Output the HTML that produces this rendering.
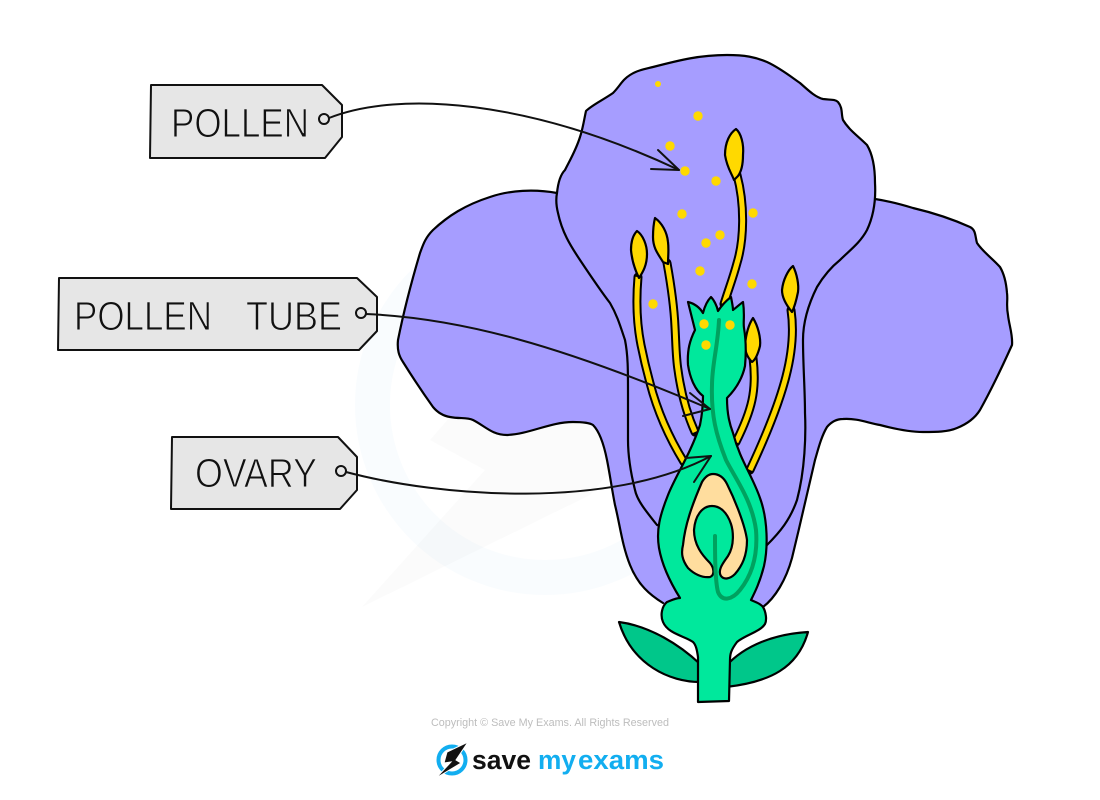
<!DOCTYPE html>
<html><head><meta charset="utf-8"><style>html,body{margin:0;padding:0;background:#fff}svg{display:block}text{font-family:"Liberation Sans",sans-serif}</style></head>
<body>
<svg width="1100" height="800" viewBox="0 0 1100 800" xmlns="http://www.w3.org/2000/svg">
<!-- watermark on white -->
<g stroke="none">
<path fill="#6aaedc" opacity=".04" fill-rule="evenodd" d="M545 215A190 190 0 1 0 545 595A190 190 0 1 0 545 215ZM545 250A155 155 0 1 1 545 560A155 155 0 1 1 545 250Z"/>
<path fill="#777" opacity=".03" d="M735 195L530 325L430 440L485 470L362 607L590 495L670 400L600 370Z"/>
</g>
<g stroke="#000" stroke-width="2.2" stroke-linejoin="round" stroke-linecap="round">
<!-- side petals + lower tube fill -->
<path fill="#a69dff" stroke="none" d="M557 193C535 189 510 190 490 197C465 205 448 216 433 230C425 238 423 245 420 253C412 280 404 310 398 340C397 350 399 356 403 362C413 378 423 393 433 407C438 413 444 416 450 417C460 419 467 417 473 420C485 426 492 435 507 435C530 434 550 422 573 422C582 422 590 423 593 425C600 432 604 445 607 460C610 475 612 490 615 505C620 525 622 545 630 565C638 585 650 595 663 603L763 607C775 598 786 580 792 558C800 525 808 490 815 460C818 450 821 437 827 427C832 421 837 419 843 419C857 418 868 423 880 425C895 429 910 432 923 432C936 432 948 432 957 428C967 424 975 418 980 410C990 392 1003 365 1012 345C1013 335 1009 325 1008 315C1006 305 1008 300 1007 293C1006 280 1003 272 1000 267C992 258 983 252 977 243C975 236 976 230 970 227C950 218 930 212 913 208C900 204 888 201 875 199Z"/>
<path fill="none" d="M557 193C535 189 510 190 490 197C465 205 448 216 433 230C425 238 423 245 420 253C412 280 404 310 398 340C397 350 399 356 403 362C413 378 423 393 433 407C438 413 444 416 450 417C460 419 467 417 473 420C485 426 492 435 507 435C530 434 550 422 573 422C582 422 590 423 593 425C600 432 604 445 607 460C610 475 612 490 615 505C620 525 622 545 630 565C638 585 650 595 663 603"/>
<path fill="none" d="M763 607C775 598 786 580 792 558C800 525 808 490 815 460C818 450 821 437 827 427C832 421 837 419 843 419C857 418 868 423 880 425C895 429 910 432 923 432C936 432 948 432 957 428C967 424 975 418 980 410C990 392 1003 365 1012 345C1013 335 1009 325 1008 315C1006 305 1008 300 1007 293C1006 280 1003 272 1000 267C992 258 983 252 977 243C975 236 976 230 970 227C950 218 930 212 913 208C900 204 888 201 875 199"/>
<!-- top petal -->
<path fill="#a69dff" d="M586 111C592 105 603 100 613 93C620 86 622 80 630 75C638 70 645 69 653 67C680 60 700 55 727 55C745 55 755 57 767 62C780 68 790 76 800 83C808 90 815 97 823 99C830 100 835 99 838 102C843 108 841 114 843 120C849 130 858 136 867 145C873 155 875 170 875 183C876 200 874 215 867 230C860 243 850 250 840 260C830 268 823 277 817 287C808 305 803 322 803 340C803 365 805 390 805 413C806 435 805 470 797 500C790 520 780 532 767 545L657 525C645 510 637 500 635 490C630 470 628 455 628 440C628 420 628 410 628 393C628 370 628 355 625 340C620 325 617 315 610 303C600 290 590 275 580 260C570 245 562 232 558 213C556 205 556 198 557 193C558 183 560 175 565 170C570 160 576 150 580 137C583 128 584 120 586 111Z"/>
<!-- stamens -->
<g fill="none">
<g stroke-width="9" stroke="#000">
<path d="M737 175C745 205 744 240 737 263C733 278 729 288 724 304"/>
<path d="M638 277C636 300 637 325 641 345C644 360 647 372 650 383C657 410 668 436 684 462"/>
<path d="M667 263C671 285 674 305 675 327C676 345 676 358 678 370C681 392 686 412 695 432"/>
<path d="M753 358C757 390 752 410 736 442"/>
<path d="M791 310C797 350 785 395 750 470"/>
</g>
<g stroke-width="5" stroke="#ffd900" stroke-linecap="butt">
<path d="M737 175C745 205 744 240 737 263C733 278 729 288 724 304"/>
<path d="M638 277C636 300 637 325 641 345C644 360 647 372 650 383C657 410 668 436 684 462"/>
<path d="M667 263C671 285 674 305 675 327C676 345 676 358 678 370C681 392 686 412 695 432"/>
<path d="M753 358C757 390 752 410 736 442"/>
<path d="M791 310C797 350 785 395 750 470"/>
</g>
</g>
<g fill="#ffd900">
<path d="M736 129C741 133 744 144 743 155C743 165 741 172 738 176L734 180C732 174 727 168 725 155C725 142 730 133 736 129Z"/>
<path d="M637 231C643 235 647 245 647 254C647 265 643 272 639 278C636 272 632 262 631 250C631 241 633 235 637 231Z"/>
<path d="M655 218C662 223 667 232 668 242C669 250 668 256 668 264L663 262C658 254 653 248 653 237C653 228 654 222 655 218Z"/>
<path d="M753 318C758 326 761 338 760 346C758 354 755 360 752 362C748 358 745 352 745 345C746 334 749 324 753 318Z"/>
<path d="M793 266C797 274 799 285 798 292C796 302 794 308 792 312C787 306 782 298 782 290C783 280 788 270 793 266Z"/>
</g>
<!-- sepals -->
<path fill="#00c78a" d="M619 622C650 626 680 645 700 664L700 682C670 682 632 665 619 622Z"/>
<path fill="#00c78a" d="M808 632C775 634 745 645 726 666L726 687C770 682 798 668 808 632Z"/>
<!-- carpel -->
<path fill="#00e89c" d="M688 302C696 304 700 308 703 313C705 305 708 300 711 297C714 300 717 306 718 311C722 305 727 300 731 297C732 302 733 307 733 310C737 307 740 304 743 302C745 315 743 322 744 328C746 340 746 355 745 366C742 380 735 390 727 398C727 415 730 425 733 433C740 460 752 475 760 498C768 520 768 548 764 566C760 582 755 592 751 600C755 602 760 603 763 607C766 612 767 620 765 624C760 632 745 635 737 642C731 650 730 654 730 660L729 701L698 702L698 657C697 650 696 645 693 642C685 636 668 634 663 622C660 615 662 606 667 602C672 600 676 598 680 598C670 582 662 565 659 548C656 530 660 515 668 495C676 475 690 455 700 425C702 415 703 405 703 396C695 390 690 378 688 365C687 350 690 340 695 330C692 318 690 310 688 302Z"/>
<path fill="#ffdd9e" d="M713 474C720 474 724 478 727 484C735 500 745 525 747 540C747 556 742 566 735 574C730 579 724 580 721 576C717 570 724 562 728 556C735 545 733 530 731 524C727 512 720 506 712 506C702 506 695 516 694 530C694 545 702 555 710 563C714 568 715 575 710 577C702 578 694 574 688 568C682 560 681 553 683 545C685 525 692 505 702 482C705 477 709 474 713 474Z"/>
<path fill="none" stroke="#00a15f" stroke-width="4" d="M719 320C718 345 712 365 712 385C711 415 716 435 726 460C735 478 752 500 756 530C758 555 752 575 740 590C732 600 722 602 718 592C715 580 715 555 715 536"/>
</g>
<!-- pollen -->
<g fill="#ffd900">
<circle cx="658" cy="84" r="3"/><circle cx="698" cy="116" r="4.7"/><circle cx="670" cy="146" r="4.7"/><circle cx="685" cy="171" r="4.7"/><circle cx="716" cy="181" r="4.7"/><circle cx="682" cy="214" r="4.7"/><circle cx="753" cy="213" r="4.7"/><circle cx="720" cy="235" r="4.7"/><circle cx="706" cy="243" r="4.7"/><circle cx="700" cy="271" r="4.7"/><circle cx="752" cy="284" r="4.7"/><circle cx="653" cy="304" r="4.7"/><circle cx="704" cy="324" r="4.7"/><circle cx="730" cy="325" r="4.7"/><circle cx="706" cy="345" r="4.7"/>
</g>
<!-- tags -->
<g fill="#e6e6e6" stroke="#111" stroke-width="2" stroke-linejoin="round">
<path d="M151 85L322 85L342 105L342 137L325 158L150 158Z"/>
<path d="M59 278L357 278L377 297L377 331L359 350L58 350Z"/>
<path d="M172 437L338 437L357 457L357 490L340 509L171 509Z"/>
</g>
<g fill="#111" font-size="41" stroke="#e6e6e6" stroke-width="1">
<text x="171" y="137" textLength="138" lengthAdjust="spacingAndGlyphs">POLLEN</text>
<text x="74" y="330" textLength="138" lengthAdjust="spacingAndGlyphs">POLLEN</text>
<text x="246" y="330" textLength="96" lengthAdjust="spacingAndGlyphs">TUBE</text>
<text x="195" y="487" textLength="122" lengthAdjust="spacingAndGlyphs">OVARY</text>
</g>
<!-- connectors -->
<g fill="none" stroke="#111" stroke-width="2" stroke-linecap="round" stroke-linejoin="round">
<circle cx="324" cy="119" r="5" fill="#e6e6e6"/><circle cx="361" cy="313" r="5" fill="#e6e6e6"/><circle cx="341" cy="471" r="5" fill="#e6e6e6"/>
<path d="M329 118C400 90 530 100 679 170"/>
<path d="M651 169L679 170L658 150"/>
<path d="M366 314C460 318 560 345 710 409"/>
<path d="M690 393L710 409L683 416"/>
<path d="M346 472C440 497 610 510 711 456"/>
<path d="M686 458L711 456L694 482"/>
</g>
<!-- footer -->
<text x="431" y="726" font-size="11" fill="#bdbdbd" textLength="238" lengthAdjust="spacingAndGlyphs">Copyright © Save My Exams. All Rights Reserved</text>
<circle cx="452" cy="760" r="13.5" fill="none" stroke="#12aef0" stroke-width="4"/>
<path d="M468 742L447 752L444 763L451 762L436 778L461 763L456 760Z" fill="#111" stroke="#fff" stroke-width="1"/>
<text x="472" y="769" font-size="27" font-weight="700" fill="#111" textLength="59" lengthAdjust="spacingAndGlyphs">save</text>
<text x="538" y="769" font-size="27" font-weight="700" fill="#12aef0" textLength="38" lengthAdjust="spacingAndGlyphs">my</text>
<text x="578" y="769" font-size="27" font-weight="700" fill="#12aef0" textLength="86" lengthAdjust="spacingAndGlyphs">exams</text>
</svg>
</body></html>
